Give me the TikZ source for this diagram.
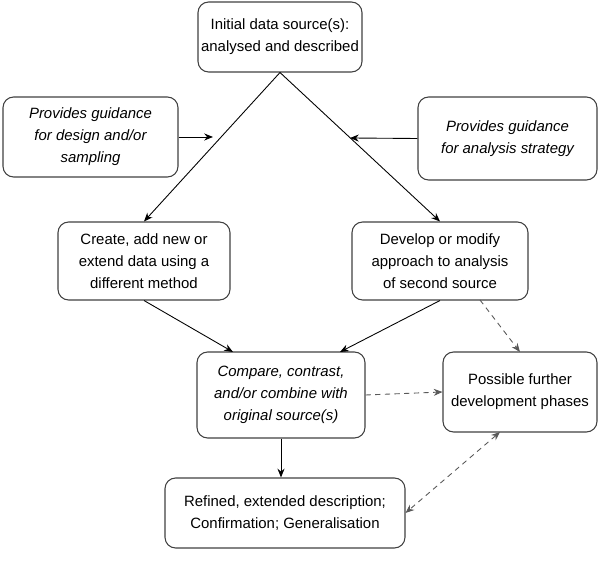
\documentclass[tikz,border=0pt]{standalone}
\usepackage{fontspec}
\setmainfont{Liberation Sans}
\usetikzlibrary{arrows.meta}
\begin{document}
\begin{tikzpicture}[x=0.02cm,y=-0.02cm,
 box/.style={draw=black!75,rounded corners=6pt,line width=0.6pt,align=center,font=\fontsize{8.5}{12.5}\selectfont,inner sep=0pt},
 arr/.style={-{Stealth[length=5pt,width=4pt]},line width=0.5pt},
 darr/.style={arr,dashed,gray!70!black,dash pattern=on 3pt off 2.5pt}]
\useasboundingbox (0,0) rectangle (600,563);
\node[box,minimum width=3.28cm,minimum height=1.4cm] (top) at (280,37) {Initial data source(s):\\analysed and described};
\node[box,minimum width=3.5cm,minimum height=1.6cm,font=\fontsize{8.5}{12.5}\selectfont\itshape] (lg) at (90.5,137) {Provides guidance\\for design and/or\\sampling};
\node[box,minimum width=3.58cm,minimum height=1.66cm,font=\fontsize{8.5}{12.5}\selectfont\itshape] (rg) at (507.5,138.5) {Provides guidance\\for analysis strategy};
\node[box,minimum width=3.44cm,minimum height=1.56cm] (cr) at (144,261) {Create, add new or\\extend data using a\\different method};
\node[box,minimum width=3.52cm,minimum height=1.56cm] (dv) at (440,261) {Develop or modify\\approach to analysis\\of second source};
\node[box,minimum width=3.36cm,minimum height=1.72cm,font=\fontsize{8.5}{12.5}\selectfont\itshape] (cp) at (281,395) {Compare, contrast,\\and/or combine with\\original source(s)};
\node[box,minimum width=3.08cm,minimum height=1.6cm] (ps) at (520,392) {Possible further\\development phases};
\node[box,minimum width=4.8cm,minimum height=1.4cm] (rf) at (285,513) {Refined, extended description;\\Confirmation; Generalisation};
\coordinate (lt) at (213,137);
\coordinate (rt) at (350,138);
\draw[arr] (top.south) -- (cr.north);
\draw[arr] (top.south) -- (dv.north);
\draw[arr] (lg.east) -- (lt);
\draw[arr] (rg.west) -- (rt);
\draw[arr] (cr.south) -- (233,352);
\draw[arr] (dv.south) -- (340,352);
\draw[darr] (480,300) -- (520,352);
\draw[darr] (cp.east) -- (ps.west);
\draw[arr] (cp.south) -- (rf.north -| cp.south);
\draw[darr,{Stealth[length=5pt,width=4pt]}-{Stealth[length=5pt,width=4pt]}] (500,432) -- (rf.east);
\end{tikzpicture}
\end{document}
